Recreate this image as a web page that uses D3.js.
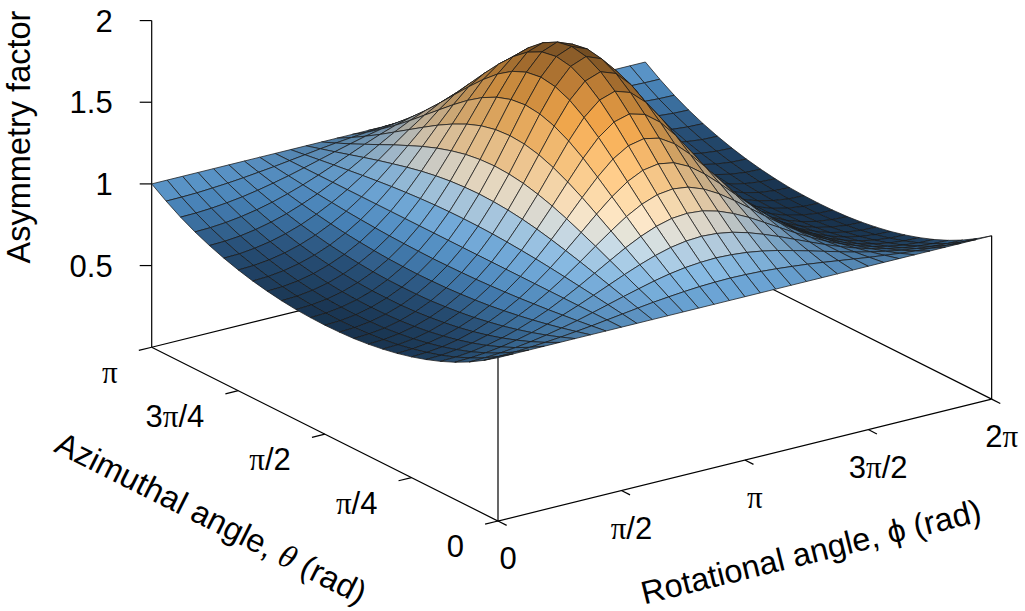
<!DOCTYPE html>
<html>
<head>
<meta charset="utf-8">
<script src="https://cdn.jsdelivr.net/npm/d3@7"></script>
<style>
  html, body { margin: 0; padding: 0; background: #fff; }
  svg { display: block; }
  text { font-family: "Liberation Sans", Arial, "DejaVu Sans", sans-serif; fill: #000; }
</style>
</head>
<body>
<div id="chart"></div>
<script>
// grid of the surface: azimuthal angle theta (rows) and rotational angle phi (columns), degrees
const thetaGridDeg = [0, 7.5, 15, 22.5, 30, 37.5, 45, 52.5, 60, 67.5, 75, 82.5, 90,
  97.5, 105, 112.5, 120, 127.5, 135, 142.5, 150, 157.5, 165, 172.5, 180]
const phiGridDeg = [0, 11.25, 22.5, 33.75, 45, 56.25, 67.5, 78.75, 90, 101.25, 112.5, 123.75, 135,
  146.25, 157.5, 168.75, 180, 191.25, 202.5, 213.75, 225, 236.25, 247.5, 258.75, 270,
  281.25, 292.5, 303.75, 315, 326.25, 337.5, 348.75, 360]

// asymmetry factor, one row per theta value
const asymmetry = [
  [1,1,1,1,1,1,1,1,1,1,1,1,1,1,1,1,1,1,1,1,1,1,1,1,1,1,1,1,1,1,1,1,1],
  [0.939,0.940,0.943,0.949,0.956,0.965,0.976,0.987,1.000,1.013,1.026,1.038,1.048,1.057,1.064,1.068,1.070,1.068,1.064,1.057,1.048,1.038,1.026,1.013,1.000,0.987,0.976,0.965,0.956,0.949,0.943,0.940,0.939],
  [0.885,0.887,0.893,0.903,0.916,0.933,0.953,0.975,1.000,1.026,1.052,1.077,1.101,1.121,1.136,1.145,1.149,1.145,1.136,1.121,1.101,1.077,1.052,1.026,1.000,0.975,0.953,0.933,0.916,0.903,0.893,0.887,0.885],
  [0.839,0.842,0.850,0.863,0.881,0.904,0.932,0.964,1.000,1.039,1.079,1.119,1.156,1.189,1.215,1.231,1.237,1.231,1.215,1.189,1.156,1.119,1.079,1.039,1.000,0.964,0.932,0.904,0.881,0.863,0.850,0.842,0.839],
  [0.800,0.803,0.812,0.828,0.850,0.878,0.913,0.953,1.000,1.051,1.106,1.161,1.215,1.262,1.300,1.325,1.333,1.325,1.300,1.262,1.215,1.161,1.106,1.051,1.000,0.953,0.913,0.878,0.850,0.828,0.812,0.803,0.800],
  [0.767,0.770,0.781,0.798,0.823,0.855,0.896,0.944,1.000,1.063,1.132,1.204,1.274,1.339,1.391,1.426,1.438,1.426,1.391,1.339,1.274,1.204,1.132,1.063,1.000,0.944,0.896,0.855,0.823,0.798,0.781,0.770,0.767],
  [0.739,0.743,0.754,0.773,0.800,0.836,0.881,0.935,1.000,1.074,1.156,1.244,1.333,1.416,1.485,1.531,1.547,1.531,1.485,1.416,1.333,1.244,1.156,1.074,1.000,0.935,0.881,0.836,0.800,0.773,0.754,0.743,0.739],
  [0.716,0.720,0.732,0.752,0.781,0.819,0.868,0.928,1.000,1.084,1.179,1.283,1.390,1.492,1.579,1.637,1.657,1.637,1.579,1.492,1.390,1.283,1.179,1.084,1.000,0.928,0.868,0.819,0.781,0.752,0.732,0.720,0.716],
  [0.698,0.702,0.714,0.735,0.766,0.806,0.858,0.922,1.000,1.092,1.199,1.317,1.441,1.563,1.667,1.738,1.764,1.738,1.667,1.563,1.441,1.317,1.199,1.092,1.000,0.922,0.858,0.806,0.766,0.735,0.714,0.702,0.698],
  [0.684,0.688,0.701,0.722,0.754,0.796,0.850,0.917,1.000,1.099,1.215,1.345,1.485,1.624,1.745,1.828,1.859,1.828,1.745,1.624,1.485,1.345,1.215,1.099,1.000,0.917,0.850,0.796,0.754,0.722,0.701,0.688,0.684],
  [0.674,0.679,0.691,0.713,0.745,0.788,0.844,0.914,1.000,1.104,1.227,1.367,1.519,1.671,1.806,1.900,1.934,1.900,1.806,1.671,1.519,1.367,1.227,1.104,1.000,0.914,0.844,0.788,0.745,0.713,0.691,0.679,0.674],
  [0.669,0.673,0.686,0.708,0.740,0.784,0.841,0.912,1.000,1.107,1.234,1.380,1.540,1.701,1.845,1.946,1.983,1.946,1.845,1.701,1.540,1.380,1.234,1.107,1.000,0.912,0.841,0.784,0.740,0.708,0.686,0.673,0.669],
  [0.667,0.671,0.684,0.706,0.739,0.783,0.839,0.911,1.000,1.108,1.237,1.385,1.547,1.712,1.859,1.962,2.000,1.962,1.859,1.712,1.547,1.385,1.237,1.108,1.000,0.911,0.839,0.783,0.739,0.706,0.684,0.671,0.667],
  [0.669,0.673,0.686,0.708,0.740,0.784,0.841,0.912,1.000,1.107,1.234,1.380,1.540,1.701,1.845,1.946,1.983,1.946,1.845,1.701,1.540,1.380,1.234,1.107,1.000,0.912,0.841,0.784,0.740,0.708,0.686,0.673,0.669],
  [0.674,0.679,0.691,0.713,0.745,0.788,0.844,0.914,1.000,1.104,1.227,1.367,1.519,1.671,1.806,1.900,1.934,1.900,1.806,1.671,1.519,1.367,1.227,1.104,1.000,0.914,0.844,0.788,0.745,0.713,0.691,0.679,0.674],
  [0.684,0.688,0.701,0.722,0.754,0.796,0.850,0.917,1.000,1.099,1.215,1.345,1.485,1.624,1.745,1.828,1.859,1.828,1.745,1.624,1.485,1.345,1.215,1.099,1.000,0.917,0.850,0.796,0.754,0.722,0.701,0.688,0.684],
  [0.698,0.702,0.714,0.735,0.766,0.806,0.858,0.922,1.000,1.092,1.199,1.317,1.441,1.563,1.667,1.738,1.764,1.738,1.667,1.563,1.441,1.317,1.199,1.092,1.000,0.922,0.858,0.806,0.766,0.735,0.714,0.702,0.698],
  [0.716,0.720,0.732,0.752,0.781,0.819,0.868,0.928,1.000,1.084,1.179,1.283,1.390,1.492,1.579,1.637,1.657,1.637,1.579,1.492,1.390,1.283,1.179,1.084,1.000,0.928,0.868,0.819,0.781,0.752,0.732,0.720,0.716],
  [0.739,0.743,0.754,0.773,0.800,0.836,0.881,0.935,1.000,1.074,1.156,1.244,1.333,1.416,1.485,1.531,1.547,1.531,1.485,1.416,1.333,1.244,1.156,1.074,1.000,0.935,0.881,0.836,0.800,0.773,0.754,0.743,0.739],
  [0.767,0.770,0.781,0.798,0.823,0.855,0.896,0.944,1.000,1.063,1.132,1.204,1.274,1.339,1.391,1.426,1.438,1.426,1.391,1.339,1.274,1.204,1.132,1.063,1.000,0.944,0.896,0.855,0.823,0.798,0.781,0.770,0.767],
  [0.800,0.803,0.812,0.828,0.850,0.878,0.913,0.953,1.000,1.051,1.106,1.161,1.215,1.262,1.300,1.325,1.333,1.325,1.300,1.262,1.215,1.161,1.106,1.051,1.000,0.953,0.913,0.878,0.850,0.828,0.812,0.803,0.800],
  [0.839,0.842,0.850,0.863,0.881,0.904,0.932,0.964,1.000,1.039,1.079,1.119,1.156,1.189,1.215,1.231,1.237,1.231,1.215,1.189,1.156,1.119,1.079,1.039,1.000,0.964,0.932,0.904,0.881,0.863,0.850,0.842,0.839],
  [0.885,0.887,0.893,0.903,0.916,0.933,0.953,0.975,1.000,1.026,1.052,1.077,1.101,1.121,1.136,1.145,1.149,1.145,1.136,1.121,1.101,1.077,1.052,1.026,1.000,0.975,0.953,0.933,0.916,0.903,0.893,0.887,0.885],
  [0.939,0.940,0.943,0.949,0.956,0.965,0.976,0.987,1.000,1.013,1.026,1.038,1.048,1.057,1.064,1.068,1.070,1.068,1.064,1.057,1.048,1.038,1.026,1.013,1.000,0.987,0.976,0.965,0.956,0.949,0.943,0.940,0.939],
  [1,1,1,1,1,1,1,1,1,1,1,1,1,1,1,1,1,1,1,1,1,1,1,1,1,1,1,1,1,1,1,1,1]
]

const zTicks = [0.5, 1, 1.5, 2]
const zTickLabels = ["0.5", "1", "1.5", "2"]
const thetaTicksDeg = [0, 45, 90, 135, 180]
const thetaTickLabels = ["0", "π/4", "π/2", "3π/4", "π"]
const phiTicksDeg = [0, 90, 180, 270, 360]
const phiTickLabels = ["0", "π/2", "π", "3π/2", "2π"]

const width = 1025
const height = 611

// orthographic camera
const view = { azimuth: 54.95, elevation: 20.61, originX: 498, originY: 521, side: 603, zUnit: 174.5 }
const rad = Math.PI / 180
const sa = Math.sin(view.azimuth * rad), ca = Math.cos(view.azimuth * rad)
const se = Math.sin(view.elevation * rad), ce = Math.cos(view.elevation * rad)

const phiScale = d3.scaleLinear().domain([0, 360]).range([0, view.side])
const thetaScale = d3.scaleLinear().domain([0, 180]).range([0, view.side])
const zScale = d3.scaleLinear().domain([0, 2]).range([0, 2 * view.zUnit])

const world = (p, t, z) => [phiScale(p), thetaScale(t), zScale(z)]
const toScreen = w => [
  view.originX + w[0] * sa - w[1] * ca,
  view.originY - ((w[0] * ca + w[1] * sa) * se + w[2] * ce)
]
const depth = w => (w[0] * ca + w[1] * sa) * ce - w[2] * se
const project = (p, t, z) => toScreen(world(p, t, z))

// colour by height, then a mild lambert shading
const palette = d3.scaleLinear()
  .domain([0.667, 0.78, 0.9, 1.0, 1.1, 1.22, 1.32, 1.5, 1.72, 1.88, 2.0])
  .range(["#1d3d5e", "#2a5580", "#4a88c0", "#66a4da", "#88bde8", "#c8d8e2", "#f2dfc2", "#f0c080", "#e8a048", "#b87a34", "#8c5e2a"])
  .interpolate(d3.interpolateRgb)
  .clamp(true)
const light = (() => {
  const l = [-0.55, -0.75, 0.35]
  const n = Math.hypot(...l)
  return l.map(v => v / n)
})()
const ambient = 0.66, diffuse = 0.46

const svg = d3.select("#chart").append("svg")
  .attr("width", width)
  .attr("height", height)
  .attr("viewBox", `0 0 ${width} ${height}`)

const line = d3.line()
const axisColor = "#000"

// back of the box (drawn first, surface covers it)
const back = svg.append("g").attr("fill", "none").attr("stroke", axisColor).attr("stroke-width", 1.2)
back.append("path").attr("d", line([project(0, 180, 0), project(360, 180, 0), project(360, 0, 0)]))
back.append("path").attr("d", line([project(0, 180, 0), project(0, 180, 2)]))

// z axis ticks and labels
zTicks.forEach((v, k) => {
  const p = project(0, 180, v)
  back.append("line")
    .attr("x1", p[0]).attr("y1", p[1])
    .attr("x2", p[0] - 12).attr("y2", p[1])
  svg.append("text")
    .attr("x", p[0] - 39)
    .attr("y", p[1] + 11)
    .attr("text-anchor", "end")
    .attr("font-size", 31)
    .text(zTickLabels[k])
})

// surface cells
const W = thetaGridDeg.map((t, i) => phiGridDeg.map((p, j) => world(p, t, asymmetry[i][j])))
const cells = []
for (let i = 0; i < thetaGridDeg.length - 1; i++) {
  for (let j = 0; j < phiGridDeg.length - 1; j++) {
    const q = [W[i][j], W[i][j + 1], W[i + 1][j + 1], W[i + 1][j]]
    const d1 = q[2].map((v, k) => v - q[0][k])
    const d2 = q[1].map((v, k) => v - q[3][k])
    let n = [
      d1[1] * d2[2] - d1[2] * d2[1],
      d1[2] * d2[0] - d1[0] * d2[2],
      d1[0] * d2[1] - d1[1] * d2[0]
    ]
    if (n[2] < 0) n = n.map(v => -v)
    const len = Math.hypot(...n)
    n = n.map(v => v / len)
    const lit = Math.max(0, n[0] * light[0] + n[1] * light[1] + n[2] * light[2])
    const zMean = (asymmetry[i][j] + asymmetry[i][j + 1] + asymmetry[i + 1][j + 1] + asymmetry[i + 1][j]) / 4
    const base = d3.rgb(palette(zMean))
    const f = ambient + diffuse * lit
    cells.push({
      pts: q.map(toScreen),
      depth: d3.mean(q, depth),
      fill: d3.rgb(base.r * f, base.g * f, base.b * f).formatHex()
    })
  }
}
cells.sort((a, b) => b.depth - a.depth)

svg.append("g")
  .selectAll("path")
  .data(cells)
  .join("path")
  .attr("d", d => line(d.pts) + "Z")
  .attr("fill", d => d.fill)
  .attr("stroke", "#1a1a1a")
  .attr("stroke-width", 0.75)
  .attr("stroke-linejoin", "round")

// front of the box
const front = svg.append("g").attr("fill", "none").attr("stroke", axisColor).attr("stroke-width", 1.2)
front.append("path").attr("d", line([project(0, 180, 0), project(0, 0, 0), project(360, 0, 0)]))
front.append("path").attr("d", line([project(0, 0, 0), project(0, 0, asymmetry[0][0])]))
front.append("path").attr("d", line([project(360, 0, 0), project(360, 0, asymmetry[0][phiGridDeg.length - 1])]))

function piLabel(sel, str) {
  const parts = str.split("π")
  parts.forEach((s, k) => {
    if (s) sel.append("tspan").text(s)
    if (k < parts.length - 1) sel.append("tspan").attr("font-family", "Liberation Serif, serif").text("π")
  })
}

// theta axis (ticks point towards -phi)
thetaTicksDeg.forEach((t, k) => {
  const a = project(0, t, 0)
  const b = project(-9.4, t, 0)
  front.append("line").attr("x1", a[0]).attr("y1", a[1]).attr("x2", b[0]).attr("y2", b[1])
  const txt = svg.append("text")
    .attr("x", a[0] - 34)
    .attr("y", a[1] + 36)
    .attr("text-anchor", "end")
    .attr("font-size", 31)
  piLabel(txt, thetaTickLabels[k])
})

// phi axis (ticks point towards -theta)
phiTicksDeg.forEach((p, k) => {
  const a = project(p, 0, 0)
  const b = project(p, -4.5, 0)
  front.append("line").attr("x1", a[0]).attr("y1", a[1]).attr("x2", b[0]).attr("y2", b[1])
  const txt = svg.append("text")
    .attr("x", a[0] + 10)
    .attr("y", a[1] + 48)
    .attr("text-anchor", "middle")
    .attr("font-size", 31)
  piLabel(txt, phiTickLabels[k])
})

// axis titles
const angleOf = (p0, p1) => Math.atan2(p1[1] - p0[1], p1[0] - p0[0]) / rad
const thetaAngle = angleOf(project(0, 0, 0), project(0, 180, 0)) + 180
const phiAngle = angleOf(project(0, 0, 0), project(360, 0, 0))

svg.append("text")
  .attr("transform", "translate(30,137) rotate(-90)")
  .attr("text-anchor", "middle")
  .attr("font-size", 32.5)
  .text("Asymmetry factor")

const tt = svg.append("text")
  .attr("transform", `translate(211,518) rotate(${thetaAngle})`)
  .attr("text-anchor", "middle")
  .attr("dominant-baseline", "central")
  .attr("font-size", 32.5)
tt.append("tspan").text("Azimuthal angle, ")
tt.append("tspan").attr("font-family", "Liberation Serif, serif").attr("font-style", "italic").text("θ")
tt.append("tspan").text(" (rad)")

svg.append("text")
  .attr("transform", `translate(811,552) rotate(${phiAngle})`)
  .attr("text-anchor", "middle")
  .attr("dominant-baseline", "central")
  .attr("font-size", 32.5)
  .text("Rotational angle, ϕ (rad)")
</script>
</body>
</html>
